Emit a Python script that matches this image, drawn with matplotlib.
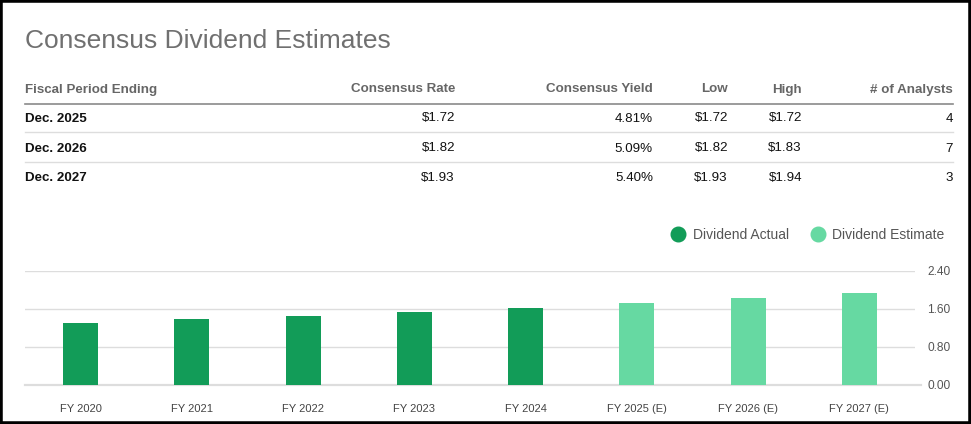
import matplotlib.pyplot as plt
from matplotlib.lines import Line2D
from matplotlib.patches import Rectangle

plt.rcParams['font.family'] = ['Liberation Sans', 'DejaVu Sans']

# table data
periods = ['Dec. 2025', 'Dec. 2026', 'Dec. 2027']
rates = ['$1.72', '$1.82', '$1.93']
yields = ['4.81%', '5.09%', '5.40%']
lows = ['$1.72', '$1.82', '$1.93']
highs = ['$1.72', '$1.83', '$1.94']
analysts = ['4', '7', '3']
headers = ['Fiscal Period Ending', 'Consensus Rate', 'Consensus Yield', 'Low', 'High', '# of Analysts']

# chart data
years = ['FY 2020', 'FY 2021', 'FY 2022', 'FY 2023', 'FY 2024',
         'FY 2025 (E)', 'FY 2026 (E)', 'FY 2027 (E)']
dividends = [1.30, 1.37, 1.44, 1.53, 1.62, 1.72, 1.82, 1.93]
is_estimate = [False, False, False, False, False, True, True, True]

W, H = 971, 424
c_actual = '#129c58'
c_est = '#66d9a2'

fig = plt.figure(figsize=(W / 100, H / 100), dpi=100)
fig.patch.set_facecolor('white')

def fx(x):
    return x / W

def fy(y):
    return 1 - y / H

# black frame
fig.add_artist(Rectangle((0, 0), 1, 1, transform=fig.transFigure, fill=False,
                         edgecolor='black', linewidth=4))

fig.text(fx(25), fy(41.5), 'Consensus Dividend Estimates', fontsize=19,
         color='#707070', va='center', ha='left')

# table
col_x = [25, 455, 653, 728, 802, 953]
aligns = ['left', 'right', 'right', 'right', 'right', 'right']
for h, x, a in zip(headers, col_x, aligns):
    fig.text(fx(x), fy(89.5), h, fontsize=9.6, fontweight='bold', color='#666666',
             ha=a, va='center')
fig.add_artist(Line2D([fx(25), fx(953)], [fy(103.5), fy(103.5)], color='#8a8a8a',
                      linewidth=1.2, transform=fig.transFigure))

row_y = [117, 147, 177]
for i, y in enumerate(row_y):
    vals = [periods[i], rates[i], yields[i], lows[i], highs[i], analysts[i]]
    for j, (v, x, a) in enumerate(zip(vals, col_x, aligns)):
        fig.text(fx(x), fy(y + 1.5), v, fontsize=9.6, color='#111111', ha=a, va='center',
                 fontweight='bold' if j == 0 else 'normal')
    if i < 2:
        fig.add_artist(Line2D([fx(25), fx(953)], [fy(y + 15), fy(y + 15)],
                              color='#dddddd', linewidth=1, transform=fig.transFigure))

# bar chart
ax = fig.add_axes([fx(25), 1 - 384.5 / H, 890 / W, 114 / H])
colors = [c_est if e else c_actual for e in is_estimate]
ax.bar(range(len(years)), dividends, width=0.315, color=colors, zorder=3)
ax.set_xlim(-0.5, len(years) - 0.5)
ax.set_ylim(0, 2.4)
ax.set_yticks([0, 0.8, 1.6, 2.4])
ax.set_yticklabels(['0.00', '0.80', '1.60', '2.40'])
ax.yaxis.tick_right()
ax.set_xticks(range(len(years)))
ax.set_xticklabels(years)
ax.tick_params(axis='y', length=0, pad=9, labelsize=8.6, labelcolor='#555555')
ax.tick_params(axis='x', length=0, pad=14, labelsize=8, labelcolor='#444444')
for lab in ax.get_yticklabels():
    lab.set_horizontalalignment('left')
ax.grid(axis='y', color='#dddddd', linewidth=1, zorder=0)
for s in ['top', 'left', 'right']:
    ax.spines[s].set_visible(False)
ax.spines['bottom'].set_color('#dddddd')
ax.spines['bottom'].set_linewidth(1.6)
ax.spines['bottom'].set_bounds(-0.5, len(years) - 0.45)
ax.spines['bottom'].set_clip_on(False)

handles = [Line2D([], [], marker='o', linestyle='', markersize=10.5, color=c_actual),
           Line2D([], [], marker='o', linestyle='', markersize=10.5, color=c_est)]
fig.legend(handles, ['Dividend Actual', 'Dividend Estimate'], loc='center right',
           bbox_to_anchor=(fx(950), fy(235)), ncol=2, frameon=False, fontsize=10,
           labelcolor='#555555', handletextpad=0.55, columnspacing=1.55,
           handlelength=1.0, borderaxespad=0)

fig.savefig('out.png', dpi=100)
